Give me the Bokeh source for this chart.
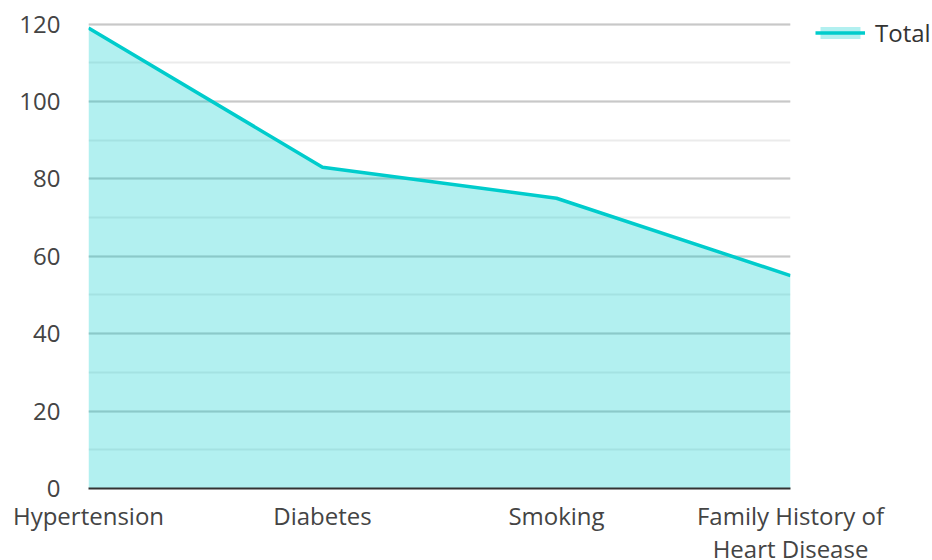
from bokeh.plotting import figure
from bokeh.models import (ColumnDataSource, Range1d, FixedTicker, SingleIntervalTicker,
                          Legend, LegendItem)
from bokeh.embed import file_html
from bokeh.resources import INLINE

categories = ["Hypertension", "Diabetes", "Smoking", "Family History of\nHeart Disease"]
totals = [119, 83, 75, 55]
series_name = "Total"

x = list(range(len(categories)))
src = ColumnDataSource(dict(x=x, y=totals, y0=[0] * len(x)))

FONT = "Open Sans"
LINE = "#00cccc"

p = figure(frame_width=702, frame_height=466, output_backend="svg", toolbar_location=None,
           x_range=Range1d(0, len(categories) - 1), y_range=Range1d(0, 120.4),
           min_border_left=88, min_border_right=0, min_border_top=22, min_border_bottom=40)
p.outline_line_color = None
p.background_fill_color = "white"

area = p.varea(x="x", y1="y0", y2="y", source=src, fill_color=LINE, fill_alpha=0.3)
ln = p.line(x="x", y="y", source=src, line_color=LINE, line_width=3.5)

# axes
p.xaxis.ticker = FixedTicker(ticks=x)
p.xaxis.major_label_overrides = {i: c for i, c in enumerate(categories)}
p.xaxis.axis_line_color = "#333333"
p.xaxis.axis_line_width = 2
p.xaxis.major_tick_line_color = None
p.xaxis.minor_tick_line_color = None
p.xaxis.major_label_standoff = 4
p.xaxis.major_label_text_line_height = 1.0
p.yaxis.ticker = SingleIntervalTicker(interval=20, num_minor_ticks=2)
p.yaxis.axis_line_color = None
p.yaxis.major_tick_line_color = None
p.yaxis.minor_tick_line_color = None
p.yaxis.major_label_standoff = 22
for ax in (p.xaxis, p.yaxis):
    ax.major_label_text_font = FONT
    ax.major_label_text_font_size = "24px"
    ax.major_label_text_color = "#444444"

p.xgrid.grid_line_color = None
p.ygrid.grid_line_color = "#c8c8c8"
p.ygrid.grid_line_width = 2
p.ygrid.minor_grid_line_color = "#ebebeb"
p.ygrid.minor_grid_line_width = 2

legend = Legend(items=[LegendItem(label=series_name, renderers=[area, ln])],
                location=(25, 439), border_line_color=None, background_fill_alpha=0,
                label_text_font=FONT, label_text_font_size="24px", label_text_color="#333333",
                glyph_width=50, glyph_height=15, padding=0, margin=0, label_standoff=10)
p.add_layout(legend, "right")

open("out.html", "w").write(file_html(p, INLINE))
